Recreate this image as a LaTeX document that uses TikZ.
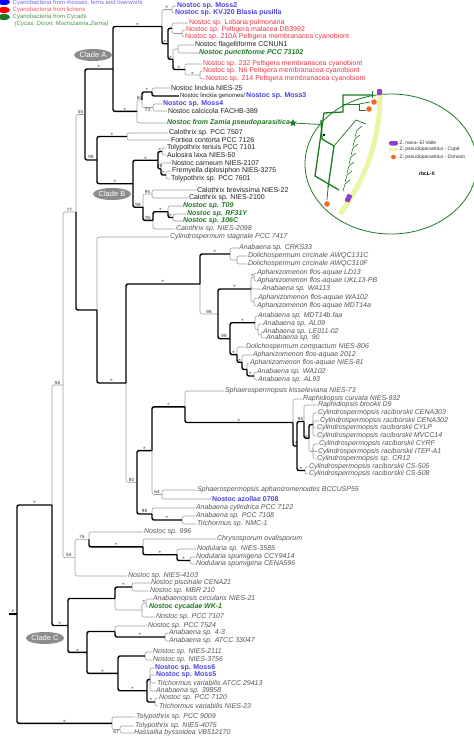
\documentclass[tikz,border=0pt]{standalone}
\usepackage{fontspec}
\setmainfont{Liberation Sans}
\usepackage{tikz}
\usetikzlibrary{arrows,positioning,shapes,shapes.geometric}
\definecolor{mossblue}{HTML}{4A44DD}
\definecolor{lichenred}{HTML}{EC3445}
\definecolor{cycadgreen}{HTML}{1E7A22}
\definecolor{taxgray}{HTML}{555555}
\definecolor{brgray}{HTML}{9C9C9C}
\definecolor{txtblack}{HTML}{222222}
\definecolor{bandyellow}{HTML}{EEF4A6}
\definecolor{markpurple}{HTML}{8E3FD0}
\definecolor{markorange}{HTML}{EE6A1C}

\begin{document}
\begin{tikzpicture}[x=1pt,y=-1pt,
  thk/.style={draw=black,line width=1.4pt,rounded corners=2pt},
  thn/.style={draw=brgray,line width=0.55pt,rounded corners=2pt},
  tx/.style={anchor=west,inner sep=0.8pt,font=\fontsize{7}{7}\selectfont,text=txtblack},
  it/.style={tx,text=taxgray,font=\fontsize{7}{7}\selectfont\itshape},
  moss/.style={tx,text=mossblue,font=\fontsize{7}{7}\selectfont\bfseries},
  lichen/.style={tx,text=lichenred},
  cycad/.style={tx,text=cycadgreen,font=\fontsize{7}{7}\selectfont\bfseries\itshape},
  bs/.style={pos=0.75,above,inner sep=0.4pt,font=\fontsize{4.5}{4.5}\selectfont,text=black!85},
  bsb/.style={pos=0.75,below,inner sep=0.4pt,font=\fontsize{4.5}{4.5}\selectfont,text=black!85},
  clade/.style={ellipse,fill=black!45,text=white,inner sep=0pt,minimum width=38pt,minimum height=12pt,font=\fontsize{7.5}{7.5}\selectfont},
  legdot/.style={ellipse,inner sep=0pt,minimum width=12pt,minimum height=6pt},
  legtx/.style={anchor=west,inner sep=0.5pt,font=\fontsize{6}{6}\selectfont},
  key/.style={anchor=west,inner sep=0.4pt,font=\fontsize{5}{5}\selectfont,text=black!80}]
\useasboundingbox[fill=white] (0,0) rectangle (474,737);

% legend
\node[legdot,fill=blue] (kb) at (4,2) {};
\node[legdot,fill=red] (kr) at (4,10) {};
\node[legdot,fill=cycadgreen] (kg) at (4,17) {};
\node[legtx,text=mossblue!80] at (12,3) {Cyanobacteria from mosses, ferns and liverworts};
\node[legtx,text=lichenred!85] at (12,10) {Cyanobacteria from lichens};
\node[legtx,text=cycadgreen!80] at (12,17) {Cyanobacteria from Cycads};
\node[legtx,text=cycadgreen!80,font=\fontsize{6}{6}\selectfont\itshape] at (14,24) {(Cycas, Dioon, Macrozamia,Zamia)};

% internal nodes
\coordinate (root0) at (9,614);
\coordinate (R) at (17,614);
\coordinate (U) at (52,505);
\coordinate (N56) at (63,385);
\coordinate (N77) at (76,212);
\coordinate (N45) at (85,114.5);
\coordinate (cA) at (113,69);
\coordinate (A1) at (162,26.5);
\coordinate (P1) at (172,9.5);
\coordinate (A2) at (168,43.75);
\coordinate (L1) at (172,28.25);
\coordinate (L2) at (182,33.5);
\coordinate (A3) at (173,59.25);
\coordinate (FP) at (178,49);
\coordinate (TR) at (185,69.5);
\coordinate (TR2) at (200,75);
\coordinate (A4) at (137,111.4);
\coordinate (N60) at (142,99.75);
\coordinate (Q) at (152,92);
\coordinate (R73) at (153,107.5);
\coordinate (N98) at (97,160);
\coordinate (CalP) at (127,136.5);
\coordinate (cB) at (133,183.7);
\coordinate (B1) at (158,160.25);
\coordinate (Tp) at (162,151.5);
\coordinate (B1b) at (161,169);
\coordinate (FrP) at (166,175);
\coordinate (B2) at (143,207.2);
\coordinate (CP2) at (152,194);
\coordinate (B3) at (153,220.4);
\coordinate (G) at (168,211.75);
\coordinate (G2) at (173,217.5);
\coordinate (N310) at (97,310);
\coordinate (N383) at (126,383);
\coordinate (N283) at (200,284);
\coordinate (D1) at (230,254);
\coordinate (Dp) at (237,260);
\coordinate (N98b) at (218,314);
\coordinate (Aph) at (251,289);
\coordinate (a1) at (254,277);
\coordinate (a2) at (254,302);
\coordinate (N99) at (230,338.7);
\coordinate (An1) at (255,322.75);
\coordinate (An1b) at (258,329.5);
\coordinate (An1c) at (261,335);
\coordinate (DC) at (237,354.6);
\coordinate (DC2) at (242,362.25);
\coordinate (DC3) at (247,369.5);
\coordinate (DC4) at (254,376);
\coordinate (N80) at (137,482.3);
\coordinate (Sph) at (152,450.6);
\coordinate (K) at (185,406.8);
\coordinate (Cyl) at (293,422.5);
\coordinate (C2) at (297,446);
\coordinate (C3) at (304,421.5);
\coordinate (C5) at (309,438.1);
\coordinate (C6) at (313,424.5);
\coordinate (C7) at (313,451.5);
\coordinate (C4) at (305,470.5);
\coordinate (N64b) at (162,494.5);
\coordinate (N98c) at (152,514);
\coordinate (Pr) at (182,520);
\coordinate (N64) at (75,557.7);
\coordinate (N75) at (89,539.4);
\coordinate (Chr) at (143,546.9);
\coordinate (Nod) at (177,554.75);
\coordinate (Nod2) at (190,560.5);
\coordinate (cC) at (68,625.5);
\coordinate (CC1) at (115,598.5);
\coordinate (Pisc) at (132,587);
\coordinate (Cyc) at (142,610);
\coordinate (AC) at (146,603);
\coordinate (CC2) at (87,652.4);
\coordinate (g7524) at (115,631.5);
\coordinate (P43) at (165,637);
\coordinate (MG) at (118,673.4);
\coordinate (P2111) at (145,656);
\coordinate (MB) at (147,690.7);
\coordinate (M1) at (150,679.5);
\coordinate (M2) at (155,702);
\coordinate (Out) at (112,723.3);
\coordinate (P4075) at (120,729.5);

% taxa
\node[moss] (l1) at (176,6) {Nostoc sp. Moss2};
\node[moss] (l2) at (174,13) {Nostoc sp. KVJ20 Blasia pusilla};
\node[lichen] (l3) at (188,23) {Nostoc sp. Lobaria pulmonaria};
\node[lichen] (l4) at (185,30) {Nostoc sp. Peltigera malacea DB3992};
\node[lichen] (l5) at (184,37) {Nostoc sp. 210A Peltigera membranacea cyanobiont};
\node[tx] (l6) at (194,45) {Nostoc flagelliforme CCNUN1};
\node[cycad] (l7) at (198,53) {Nostoc punctiforme PCC 73102};
\node[lichen] (l8) at (202,64) {Nostoc sp. 232 Peltigera membranacea cyanobiont};
\node[lichen] (l9) at (202,71) {Nostoc sp. N6 Peltigera membranacea cyanobiont};
\node[lichen] (l10) at (205,79) {Nostoc sp. 214 Peltigera membranacea cyanobiont};
\node[tx] (l11) at (170,88) {Nostoc linckia NIES-25};
\node[tx] (l12) at (179,96) {{\fontsize{6}{6}\selectfont Nostoc linckia genomes/}\,\textcolor{mossblue}{\bfseries Nostoc sp. Moss3}};
\node[moss] (l13) at (162,104) {Nostoc sp. Moss4};
\node[tx] (l14) at (167,111) {Nostoc calcicola FACHB-389};
\node[cycad] (l15) at (166,123) {Nostoc from Zamia pseudoparasitica};
\node[tx] (l16) at (168,133) {Calothrix sp. PCC 7507};
\node[tx] (l17) at (170,140) {Fortiea contorta PCC 7126};
\node[tx] (l18) at (166,148) {Tolypothrix tenuis PCC 7101};
\node[tx] (l19) at (166,155) {Aulosira laxa NIES-50};
\node[tx] (l20) at (171,163) {Nostoc carneum NIES-2107};
\node[tx] (l21) at (171,171) {Fremyella diplosiphon NIES-3275};
\node[tx] (l22) at (170,179) {Tolypothrix sp. PCC 7601};
\node[tx] (l23) at (196,190) {Calothrix brevissima NIES-22};
\node[tx] (l24) at (188,198) {Calothrix sp. NIES-2100};
\node[cycad] (l25) at (182,206) {Nostoc sp. T09};
\node[cycad] (l26) at (186,214) {Nostoc sp. RF31Y};
\node[cycad] (l27) at (182,221) {Nostoc sp. 106C};
\node[it] (l28) at (175,229) {Calothrix sp. NIES-2098};
\node[it] (l29) at (169,237) {Cylindrospermum stagnale PCC 7417};
\node[it] (l30) at (238,248) {Anabaena sp. CRKS33};
\node[it] (l31) at (247,256) {Dolichospermum circinale AWQC131C};
\node[it] (l32) at (247,264) {Dolichospermum circinale AWQC310F};
\node[it] (l33) at (256,273) {Aphanizomenon flos-aquae LD13};
\node[it] (l34) at (256,281) {Aphanizomenon flos-aquae UKL13-PB};
\node[it] (l35) at (261,289) {Anabaena sp. WA113};
\node[it] (l36) at (257,298) {Aphanizomenon flos-aquae WA102};
\node[it] (l37) at (256,306) {Aphanizomenon flos-aquae MDT14a};
\node[it] (l38) at (257,316) {Anabaena sp. MDT14b.faa};
\node[it] (l39) at (262,324) {Anabaena sp. AL09};
\node[it] (l40) at (262,332) {Anabaena sp. LE011-02};
\node[it] (l41) at (265,338) {Anabaena sp. 90};
\node[it] (l42) at (245,347) {Dolichospermum compactum NIES-806};
\node[it] (l43) at (252,355) {Aphanizomenon flos-aquae 2012};
\node[it] (l44) at (249,363) {Aphanizomenon flos-aquae NIES-81};
\node[it] (l45) at (256,372) {Anabaena sp. WA102};
\node[it] (l46) at (257,380) {Anabaena sp. AL93};
\node[it] (l47) at (224,391) {Sphaerospermopsis kisseleviana NIES-73};
\node[it] (l48) at (302,399) {Raphidiopsis curvata NIES-932};
\node[it] (l49) at (317,405) {Raphidiopsis brookii D9};
\node[it] (l50) at (317,413) {Cylindrospermopsis raciborskii CENA303};
\node[it] (l51) at (319,421) {Cylindrospermopsis raciborskii CENA302};
\node[it] (l52) at (316,428) {Cylindrospermopsis raciborskii CYLP};
\node[it] (l53) at (316,436) {Cylindrospermopsis raciborskii MVCC14};
\node[it] (l54) at (318,444) {Cylindrospermopsis raciborskii CYRF};
\node[it] (l55) at (317,451.5) {Cylindrospermopsis raciborskii ITEP-A1};
\node[it] (l56) at (316,459) {Cylindrospermopsis sp. CR12};
\node[it] (l57) at (308,467) {Cylindrospermopsis raciborskii CS-505};
\node[it] (l58) at (308,474) {Cylindrospermopsis raciborskii CS-508};
\node[it] (l59) at (196,490) {Sphaerospermopsis aphanizomenoides BCCUSP55};
\node[moss] (l60) at (211,499) {Nostoc azollae 0708};
\node[it] (l61) at (195,508) {Anabaena cylindrica PCC 7122};
\node[it] (l62) at (195,516) {Anabaena sp. PCC 7108};
\node[it] (l63) at (196,524) {Trichormus sp. NMC-1};
\node[it] (l64) at (143,532) {Nostoc sp. 996};
\node[it] (l65) at (216,539) {Chrysosporum ovalisporum};
\node[it] (l66) at (196,549) {Nodularia sp. NIES-3585};
\node[it] (l67) at (195,557) {Nodularia spumigena CCY9414};
\node[it] (l68) at (195,564) {Nodularia spumigena CENA596};
\node[it] (l69) at (127,576) {Nostoc sp. NIES-4103};
\node[it] (l70) at (150,583) {Nostoc piscinale CENA21};
\node[it] (l71) at (149,591) {Nostoc sp. MBR 210};
\node[it] (l72) at (152,599) {Anabaenopsis circularis NIES-21};
\node[cycad] (l73) at (148,607) {Nostoc cycadae WK-1};
\node[it] (l74) at (155,617) {Nostoc sp. PCC 7107};
\node[it] (l75) at (147,626) {Nostoc sp. PCC 7524};
\node[it] (l76) at (168,633) {Anabaena sp. 4-3};
\node[it] (l77) at (168,641) {Anabaena sp. ATCC 33047};
\node[it] (l78) at (152,652) {Nostoc sp. NIES-2111};
\node[it] (l79) at (152,660) {Nostoc sp. NIES-3756};
\node[moss] (l80) at (154,668) {Nostoc sp. Moss6};
\node[moss] (l81) at (155,675) {Nostoc sp. Moss5};
\node[it] (l82) at (156,683) {Trichormus variabilis ATCC 29413};
\node[it] (l83) at (155,691) {Anabaena sp. 39858};
\node[it] (l84) at (158,698) {Nostoc sp. PCC 7120};
\node[it] (l85) at (158,706) {Trichormus variabilis NIES-23};
\node[it] (l86) at (135,717) {Tolypothrix sp. PCC 9009};
\node[it] (l87) at (134,726) {Tolypothrix sp. NIES-4075};
\node[it] (l88) at (133,733) {Hassallia byssoidea VB512170};

% thin branches
\draw[thn] (U) |- node[bs]{56} (N56);
\draw[thn] (N56) |- node[bs]{77} (N77);
\draw[thn] (N56) |- node[bs]{64} (N64);
\draw[thn] (N77) |- node[bs]{45} (N45);
\draw[thn] (A1) |- node[bs]{$\ast$} (P1);
\draw[thn] (P1) |- (l1);
\draw[thn] (P1) |- (l2);
\draw[thn] (L1) |- (l3);
\draw[thn] (L1) |- (L2);
\draw[thn] (L2) |- (l4);
\draw[thn] (L2) |- (l5);
\draw[thn] (A3) |- (FP);
\draw[thn] (FP) |- (l6);
\draw[thn] (FP) |- (l7);
\draw[thn] (TR) |- (l8);
\draw[thn] (TR) |- node[bs]{$\ast$} (TR2);
\draw[thn] (TR2) |- (l9);
\draw[thn] (TR2) |- (l10);
\draw[thn] (A4) |- node[bs]{60} (N60);
\draw[thn] (A4) |- (l15);
\draw[thn] (N60) |- node[bsb]{73} (R73);
\draw[thn] (Q) |- (l11);
\draw[thn] (R73) |- (l13);
\draw[thn] (R73) |- (l14);
\draw[thn] (CalP) |- (l16);
\draw[thn] (CalP) |- (l17);
\draw[thn] (Tp) |- (l18);
\draw[thn] (Tp) |- (l19);
\draw[thn] (B1b) |- (l20);
\draw[thn] (FrP) |- (l21);
\draw[thn] (FrP) |- (l22);
\draw[thn] (B2) |- node[bs]{95} (CP2);
\draw[thn] (CP2) |- (l23);
\draw[thn] (CP2) |- (l24);
\draw[thn] (G) |- (l25);
\draw[thn] (G2) |- (l26);
\draw[thn] (G2) |- (l27);
\draw[thn] (B3) |- (l28);
\draw[thn] (N310) |- (l29);
\draw[thn] (D1) |- (l30);
\draw[thn] (D1) |- (Dp);
\draw[thn] (Dp) |- (l31);
\draw[thn] (Dp) |- (l32);
\draw[thn] (N283) |- node[bs]{98} (N98b);
\draw[thn] (Aph) |- node[bs]{$\ast$} (a1);
\draw[thn] (Aph) |- (l35);
\draw[thn] (Aph) |- (a2);
\draw[thn] (a1) |- (l33);
\draw[thn] (a1) |- (l34);
\draw[thn] (a2) |- (l36);
\draw[thn] (a2) |- (l37);
\draw[thn] (An1) |- (l38);
\draw[thn] (An1) |- (An1b);
\draw[thn] (An1b) |- (l39);
\draw[thn] (An1b) |- (An1c);
\draw[thn] (An1c) |- (l40);
\draw[thn] (An1c) |- (l41);
\draw[thn] (DC) |- (l42);
\draw[thn] (DC2) |- (l43);
\draw[thn] (DC3) |- (l44);
\draw[thn] (DC4) |- (l45);
\draw[thn] (DC4) |- (l46);
\draw[thn] (N383) |- node[bs]{80} (N80);
\draw[thn] (K) |- (l47);
\draw[thn] (Cyl) |- (l48);
\draw[thn] (C3) |- (l49);
\foreach \t in {l50,l51,l52,l53} \draw[thn] (C6) |- (\t);
\foreach \t in {l54,l55,l56} \draw[thn] (C7) |- (\t);
\draw[thn] (C5) |- (C7);
\draw[thn] (C4) |- (l57);
\draw[thn] (C4) |- (l58);
\draw[thn] (Sph) |- node[bs]{64} (N64b);
\draw[thn] (N64b) |- (l59);
\draw[thn] (N64b) |- (l60);
\draw[thn] (N98c) |- (l61);
\draw[thn] (Pr) |- (l62);
\draw[thn] (Pr) |- (l63);
\draw[thn] (N64) |- (l69);
\draw[thn] (N75) |- (l64);
\draw[thn] (Chr) |- (l65);
\draw[thn] (Nod) |- (l66);
\draw[thn] (Nod2) |- (l67);
\draw[thn] (Nod2) |- (l68);
\draw[thn] (N64) |- node[bs]{75} (N75);
\draw[thn] (Pisc) |- (l70);
\draw[thn] (Pisc) |- (l71);
\draw[thn] (CC1) |- (Cyc);
\draw[thn] (Cyc) |- node[bs]{$\ast$} (AC);
\draw[thn] (AC) |- (l72);
\draw[thn] (AC) |- (l73);
\draw[thn] (Cyc) |- (l74);
\draw[thn] (g7524) |- (l75);
\draw[thn] (P43) |- (l76);
\draw[thn] (P43) |- (l77);
\draw[thn] (P2111) |- (l78);
\draw[thn] (P2111) |- (l79);
\foreach \t in {l80,l81,l82,l83} \draw[thn] (M1) |- (\t);
\draw[thn] (M2) |- (l84);
\draw[thn] (M2) |- (l85);
\draw[thn] (Out) |- (l86);
\draw[thn] (Out) |- node[bsb]{67} (P4075);
\draw[thn] (P4075) |- (l87);
\draw[thn] (P4075) |- (l88);

% thick branches
\draw[thk] (root0) -- node[above,inner sep=0.4pt,font=\fontsize{4.5}{4.5}\selectfont]{$\ast$} (R);
\draw[thk] (R) |- node[bs]{$\ast$} (U);
\draw[thk] (R) |- node[bs]{$\ast$} (Out);
\draw[thk] (U) |- node[bs]{$\ast$} (cC);
\draw[thk] (N77) |- (N310);
\draw[thk] (N45) |- node[bs]{$\ast$} (cA);
\draw[thk] (N45) |- node[bs]{98} (N98);
\draw[thk] (cA) |- node[bs]{$\ast$} (A1);
\draw[thk] (cA) |- node[bs]{$\ast$} (A4);
\draw[thk] (A1) |- node[bs]{$\ast$} (A2);
\draw[thk] (A2) |- (L1);
\draw[thk] (A2) |- node[bs]{$\ast$} (A3);
\draw[thk] (A3) |- node[bs]{$\ast$} (TR);
\draw[thk] (N60) |- node[bs]{$\ast$} (Q);
\draw[thk] (Q) |- (l12);
\draw[thk] (N98) |- node[bs]{$\ast$} (CalP);
\draw[thk] (N98) |- node[bs]{$\ast$} (cB);
\draw[thk] (cB) |- node[bs]{$\ast$} (B1);
\draw[thk] (cB) |- node[bs]{99} (B2);
\draw[thk] (B1) |- node[bs]{$\ast$} (Tp);
\draw[thk] (B1) |- node[bs]{89} (B1b);
\draw[thk] (B1b) |- node[bs]{$\ast$} (FrP);
\draw[thk] (B2) |- node[bs]{95} (B3);
\draw[thk] (B3) |- node[bs]{$\ast$} (G);
\draw[thk] (G) |- node[bs]{$\ast$} (G2);
\draw[thk] (N310) |- node[bs]{$\ast$} (N383);
\draw[thk] (N383) |- node[bs]{$\ast$} (N283);
\draw[thk] (N283) |- node[bs]{$\ast$} (D1);
\draw[thk] (N98b) |- node[bs]{$\ast$} (Aph);
\draw[thk] (N98b) |- node[bs]{99} (N99);
\draw[thk] (N99) |- node[bs]{$\ast$} (An1);
\draw[thk] (N99) |- node[bs]{$\ast$} (DC);
\draw[thk] (DC) |- node[bs]{$\ast$} (DC2);
\draw[thk] (DC2) |- (DC3);
\draw[thk] (DC3) |- node[bs]{$\ast$} (DC4);
\draw[thk] (N80) |- node[bs]{$\ast$} (Sph);
\draw[thk] (N80) |- node[bs]{98} (N98c);
\draw[thk] (Sph) |- node[bs]{$\ast$} (K);
\draw[thk] (K) |- node[bs]{$\ast$} (Cyl);
\draw[thk] (Cyl) |- node[bs]{74} (C2);
\draw[thk] (C2) |- node[bs]{95} (C3);
\draw[thk] (C2) |- node[bs]{$\ast$} (C4);
\draw[thk] (C3) |- node[bs]{$\ast$} (C5);
\draw[thk] (C5) |- (C6);
\draw[thk] (N98c) |- node[bs]{$\ast$} (Pr);
\draw[thk] (N75) |- node[bs]{$\ast$} (Chr);
\draw[thk] (Chr) |- node[bs]{$\ast$} (Nod);
\draw[thk] (Nod) |- node[bs]{$\ast$} (Nod2);
\draw[thk] (cC) |- (CC1);
\draw[thk] (cC) |- node[bs]{$\ast$} (CC2);
\draw[thk] (CC1) |- node[bs]{$\ast$} (Pisc);
\draw[thk] (CC2) |- (g7524);
\draw[thk] (CC2) |- node[bs]{$\ast$} (MG);
\draw[thk] (g7524) |- node[bs]{$\ast$} (P43);
\draw[thk] (MG) |- (P2111);
\draw[thk] (MG) |- node[bs]{$\ast$} (MB);
\draw[thk] (MB) |- (M1);
\draw[thk] (MB) |- node[bs]{$\ast$} (M2);

% clade tags
\node[clade] (tagA) at (93,55) {Clade A};
\node[clade] (tagB) at (112,194) {Clade B};
\node[clade] (tagC) at (45,638) {Clade C};

% inset: rbcL-X tree of the Zamia cyanobionts
\node[draw=cycadgreen,line width=0.8pt,ellipse,minimum width=172pt,minimum height=140pt] (inset) at (391,164) {};
\node[star,star points=5,star point ratio=2.2,fill=cycadgreen,inner sep=0pt,minimum size=8pt] (zstar) at (293,123) {};
\draw[cycadgreen,line width=0.8pt] (zstar) -- (inset.151);
\draw[bandyellow,line width=5pt] (380,90) .. controls (381,140) and (365,180) .. (340,214);
\draw[cycadgreen,line width=1.3pt] (372,95) -- (343,95) -- (343,112) -- (324,113) -- (315,176) -- (339,190);
\draw[cycadgreen,line width=1.3pt] (321,120) -- (322,139) -- (334,146) -- (328,188);
\draw[cycadgreen,line width=0.7pt] (343,104) -- (359,104) -- (359,110) -- (366,110);
\draw[cycadgreen,line width=0.7pt] (359,104) -- (370,102);
\draw[cycadgreen,line width=0.7pt] (372,91) -- (372,98);
\draw[cycadgreen,line width=0.7pt] (334,146) -- (356,120) -- (366,124);
\foreach \a in {0,...,6} \draw[cycadgreen,line width=0.6pt] (362-2*\a,126+9*\a) -- (357-2*\a,130+9*\a) -- (355-2*\a,137+9*\a);
\draw[cycadgreen,line width=0.7pt] (328,188) -- (327,200);
\fill[black] (323,134) rectangle +(1.5,1.5);
\fill[markpurple,rounded corners=1pt] (377,89) rectangle (382,95);
\fill[markpurple,rounded corners=1pt,rotate around={-25:(348,198)}] (346,194) rectangle (351,202);
\fill[markorange] (374,102) circle (2.8);
\fill[markorange] (369,109) circle (2.8);
\fill[markorange] (327,204) circle (2.8);
\fill[markpurple,rounded corners=2pt] (389,141) rectangle (398,145.5);
\fill[bandyellow] (389,147.5) rectangle (398,151);
\fill[markorange] (393.5,157) circle (2.4);
\node[key] at (399,143) {Z. nana- El Valle};
\node[key] at (399,149.5) {Z. pseudoparasitica - Copé};
\node[key] at (399,157) {Z. pseudoparasitica - Donoso};
\node[font=\fontsize{5}{5}\selectfont\bfseries,inner sep=0pt] at (427,174) {rbcL-X};
\end{tikzpicture}
\end{document}
